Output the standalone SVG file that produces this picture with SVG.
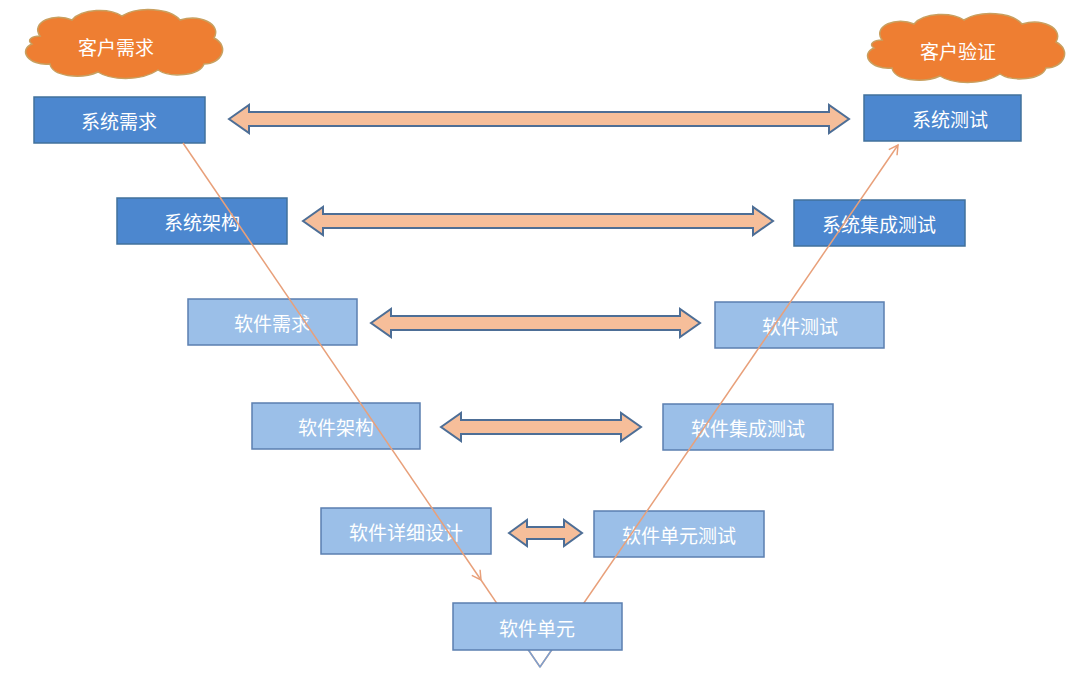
<svg xmlns="http://www.w3.org/2000/svg" width="1088" height="677" viewBox="0 0 1088 677">
<style>
text{font-family:"Noto Sans CJK SC","Liberation Sans",sans-serif;font-size:19px;fill:#fff;text-anchor:middle;dominant-baseline:central}
.d{fill:#4C87CF;stroke:#41719C;stroke-width:1.5}
.l{fill:#9BBFE8;stroke:#5B7FB0;stroke-width:1.5}
.a{fill:#F6BE9A;stroke:#4D6E96;stroke-width:2}
.c{fill:#EE7E32;stroke:#C8A060;stroke-width:1.5}
.v{fill:none;stroke:#E8A07A;stroke-width:1.5}
</style>
<defs>
<marker id="h" markerWidth="12" markerHeight="12" refX="10" refY="6" orient="auto" markerUnits="userSpaceOnUse"><path d="M1,1 L10,6 L1,11" fill="none" stroke="#E8A07A" stroke-width="1.5"/></marker>
</defs>
<rect width="1088" height="677" fill="#fff"/>
<g id="cloud-left"><path class="c" d="M40,36 C30,22 55,12 72,20 C82,8 110,8 122,16 C138,6 170,8 180,20 C200,14 222,24 214,38 C230,46 222,64 204,64 C200,76 170,78 158,70 C140,82 110,80 98,72 C80,80 52,76 50,64 C28,66 18,50 32,44 C26,40 32,36 40,36 Z"/><text x="116" y="46">客户需求</text></g>
<g id="cloud-right"><path class="c" d="M882,40 C872,26 897,16 914,24 C924,12 952,12 964,20 C980,10 1012,12 1022,24 C1042,18 1064,28 1056,42 C1072,50 1064,68 1046,68 C1042,80 1012,82 1000,74 C982,86 952,84 940,76 C922,84 894,80 892,68 C870,70 860,54 874,48 C868,44 874,40 882,40 Z"/><text x="958" y="50">客户验证</text></g>
<g id="arrows">
<path class="a" d="M229,119 L249,105 L249,112 L829,112 L829,105 L849,119 L829,133 L829,126 L249,126 L249,133 Z"/>
<path class="a" d="M303,221 L323,207 L323,214 L753,214 L753,207 L773,221 L753,235 L753,228 L323,228 L323,235 Z"/>
<path class="a" d="M371,323 L391,309 L391,316 L680,316 L680,309 L700,323 L680,337 L680,330 L391,330 L391,337 Z"/>
<path class="a" d="M441,427 L461,413 L461,420 L621,420 L621,413 L641,427 L621,441 L621,434 L461,434 L461,441 Z"/>
<path class="a" d="M509,533 L527,520 L527,527 L564,527 L564,520 L582,533 L564,546 L564,539 L527,539 L527,546 Z"/>
</g>
<g id="n1"><rect class="d" x="34" y="97" width="171" height="46"/><text x="119" y="120">系统需求</text></g>
<g id="n2"><rect class="d" x="864" y="95" width="157" height="46"/><text x="950" y="118">系统测试</text></g>
<g id="n3"><rect class="d" x="117" y="198" width="170" height="46"/><text x="202" y="221">系统架构</text></g>
<g id="n4"><rect class="d" x="794" y="200" width="171" height="46"/><text x="879" y="223">系统集成测试</text></g>
<g id="n5"><rect class="l" x="188" y="299" width="169" height="46"/><text x="272" y="322">软件需求</text></g>
<g id="n6"><rect class="l" x="715" y="302" width="169" height="46"/><text x="800" y="325">软件测试</text></g>
<g id="n7"><rect class="l" x="252" y="403" width="168" height="46"/><text x="336" y="426">软件架构</text></g>
<g id="n8"><rect class="l" x="663" y="404" width="170" height="46"/><text x="748" y="427">软件集成测试</text></g>
<g id="n9"><rect class="l" x="321" y="508" width="170" height="46"/><text x="406" y="531">软件详细设计</text></g>
<g id="n10"><rect class="l" x="594" y="511" width="170" height="46"/><text x="679" y="534">软件单元测试</text></g>
<g id="connectors">
<line class="v" x1="183" y1="143" x2="481" y2="580" marker-end="url(#h)"/>
<line class="v" x1="481" y1="580" x2="540" y2="667"/>
<line class="v" x1="540" y1="667" x2="898" y2="145" marker-end="url(#h)"/>
<path d="M527,648 L540,667 L553,648" fill="none" stroke="#7BA0D0" stroke-width="1.5"/>
</g>
<g id="n11"><rect class="l" x="453" y="603" width="169" height="47"/><text x="537" y="627">软件单元</text></g>
</svg>
